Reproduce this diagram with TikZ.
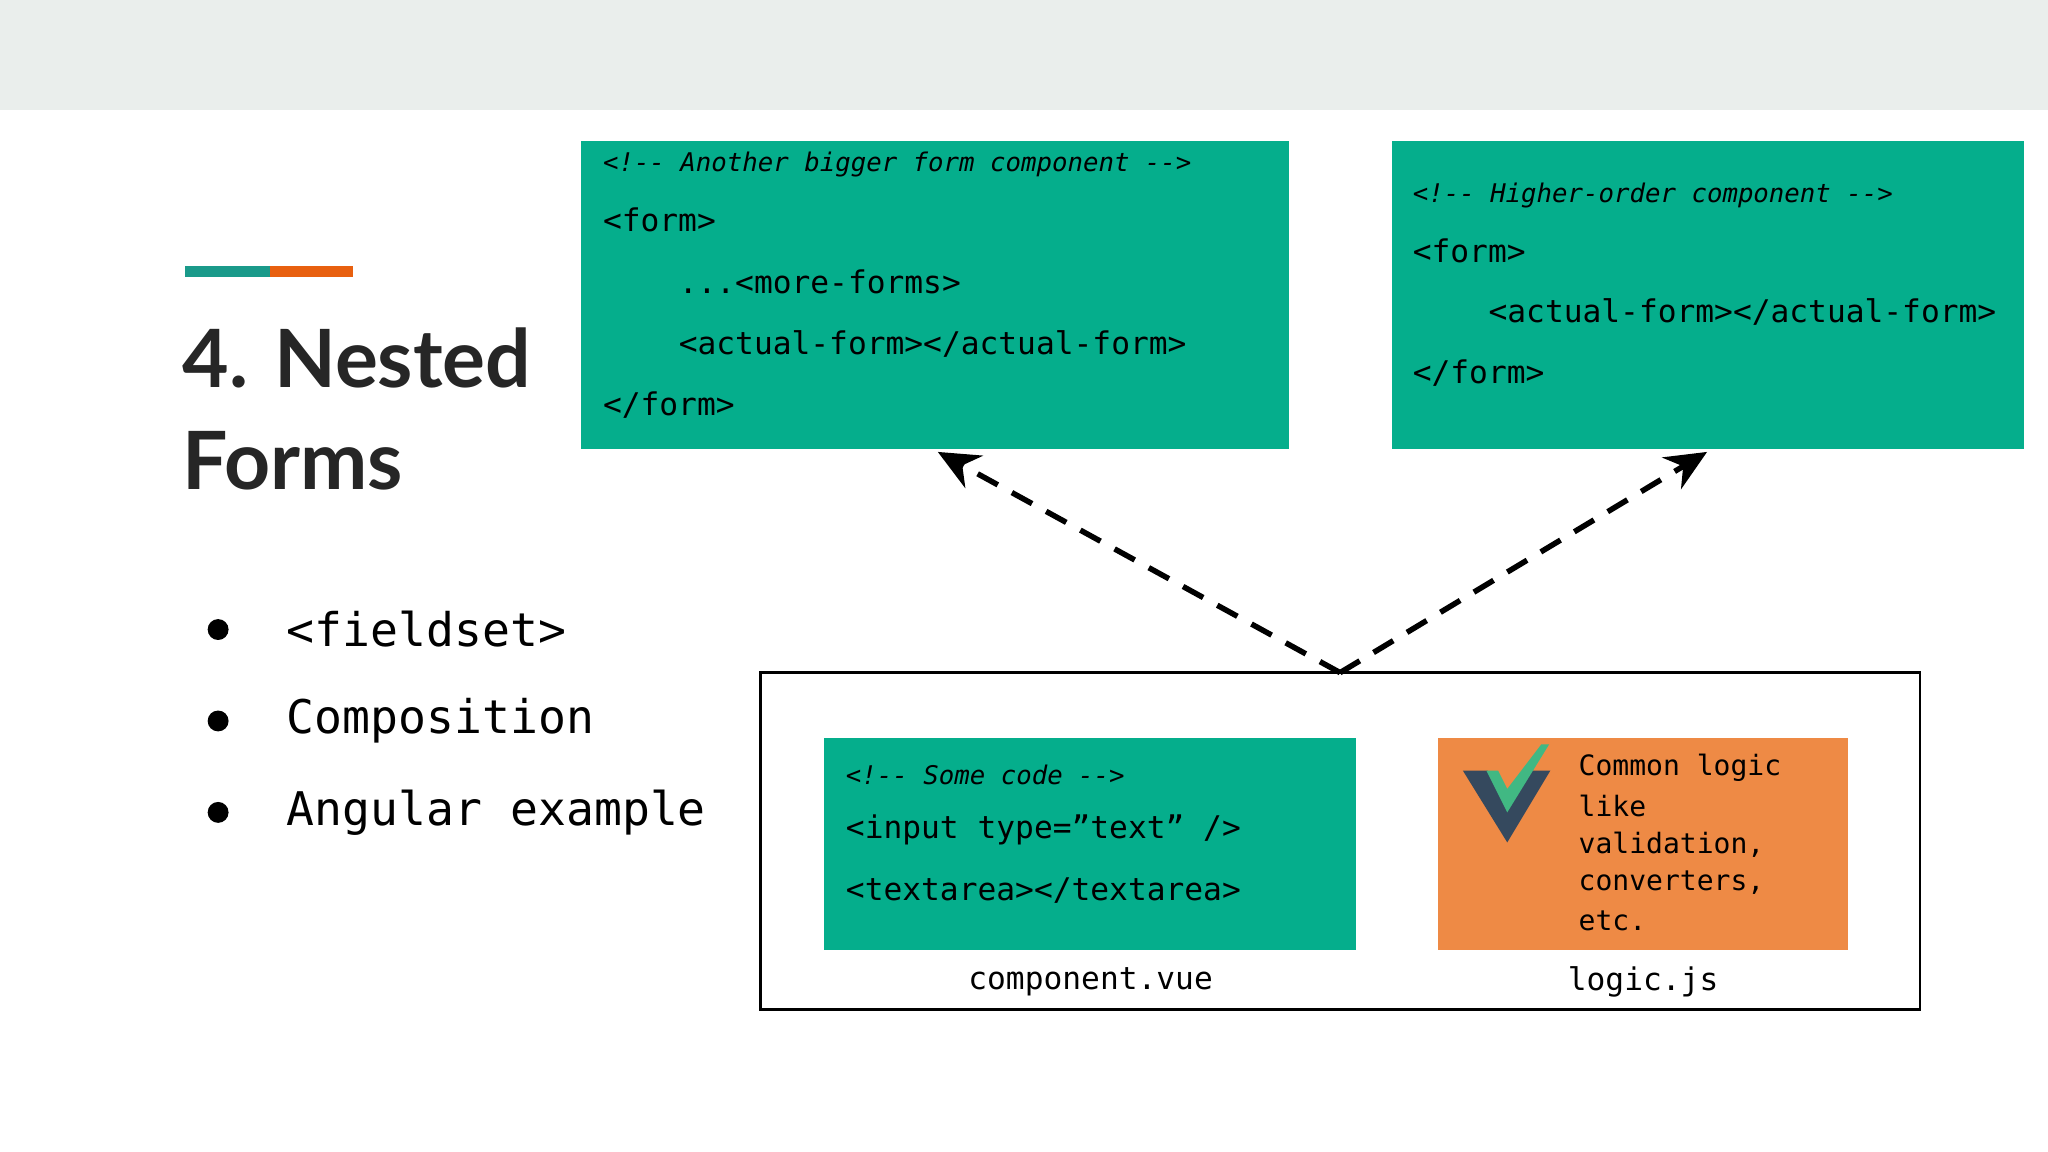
\documentclass[tikz,border=0pt]{standalone}
\usepackage{fontspec}
\setmainfont{Lato}
\newfontfamily\codefont{DejaVu Sans Mono}
\usetikzlibrary{arrows.meta,positioning}
\definecolor{boxteal}{HTML}{05AE8C}
\definecolor{orng}{HTML}{EE8A45}
\definecolor{accorng}{HTML}{E8600F}
\definecolor{acctea}{HTML}{1A9A8A}
\definecolor{band}{HTML}{EAEEEC}
\definecolor{vuedark}{HTML}{35495E}
\definecolor{vuegreen}{HTML}{41B883}
\tikzset{
  code/.style={anchor=west, inner sep=0pt, font=\codefont\fontsize{6.8}{8}\selectfont},
  cmt/.style={anchor=west, inner sep=0pt, font=\codefont\itshape\fontsize{5.6}{7}\selectfont},
  bullet/.style={anchor=west, inner sep=0pt, font=\codefont\fontsize{10.1}{12}\selectfont},
  title/.style={anchor=base west, inner sep=0pt, font=\bfseries\fontsize{17.5}{22}\selectfont, text=black!85},
  box/.style={fill=boxteal, draw=none},
  link/.style={line width=1.2pt, dash pattern=on 5pt off 3.5pt, -{Stealth[length=9pt,width=8pt]}}
}
\begin{document}
\begin{tikzpicture}[x=0.01cm,y=-0.01cm]
	\useasboundingbox (0,0) rectangle (1568,882);
	\fill[white] (0,0) rectangle (1568,882);
	\fill[band] (0,0) rectangle (1568,84);
	
	% accent line and title
	\draw[acctea, line width=2.3pt] (142,208) -- (207,208);
	\draw[accorng, line width=2.3pt] (207,208) -- (270,208);
	\node[title] (t1) at (139,297) {4. Nested};
	\node[title] (t2) at (139,375) {Forms};
	
	% bullets
	\foreach \yy/\txt [count=\i] in {482/{<fieldset>},552/{Composition},622/{Angular example}}{
		\fill (167,\yy) circle (8);
		\node[bullet] (b\i) at (219,\yy) {\txt};
	}
	
	% bigger form component
	\path[box] (445,108) rectangle (987,344);
	\node[cmt] (ca) at (461,126) {<!-- Another bigger form component -->};
	\node[code] (a1) at (461,168) {<form>};
	\node[code] (a2) at (519,216) {...<more-forms>};
	\node[code] (a3) at (519,263) {<actual-form></actual-form>};
	\node[code] (a4) at (461,310) {</form>};
	\coordinate (A) at (718,346);
	
	% higher-order component
	\path[box] (1066,108) rectangle (1550,344);
	\node[cmt] (cb) at (1081,150) {<!-- Higher-order component -->};
	\node[code] (h1) at (1081,192) {<form>};
	\node[code] (h2) at (1139,239) {<actual-form></actual-form>};
	\node[code] (h3) at (1081,286) {</form>};
	\coordinate (B) at (1307,346);
	
	% outer box
	\draw[line width=0.6pt] (582,515) rectangle (1470,773);
	\coordinate (O) at (1026,515);
	\draw[link] (O) -- (A);
	\draw[link] (O) -- (B);
	
	% component.vue
	\path[box] (631,565) rectangle (1038,727);
	\node[cmt] (cc) at (647,593) {<!-- Some code -->};
	\node[code] (c1) at (647,635) {<input type=”text” />};
	\node[code] (c2) at (647,682) {<textarea></textarea>};
	\node[code, anchor=center] (lc) at (835,752) {component.vue};
	
	% logic.js
	\fill[orng] (1101,565) rectangle (1415,727);
	\fill[vuedark] (1120,590) -- (1139,590) -- (1154,620) -- (1169,590) -- (1187,590) -- (1154,645) -- cycle;
	\fill[vuegreen] (1138,590) -- (1147,590) -- (1154,604) -- (1180,570) -- (1186,570) -- (1154,622) -- cycle;
	\foreach \yy/\txt [count=\i] in {588/{Common logic},617/{like},647/{validation,},676/{converters,},705/{etc.}}{
		\node[code, font=\codefont\fontsize{6.1}{7}\selectfont] (l\i) at (1208,\yy) {\txt};
	}
	\node[code, anchor=center] (ll) at (1258,752) {logic.js};
\end{tikzpicture}
\end{document}
